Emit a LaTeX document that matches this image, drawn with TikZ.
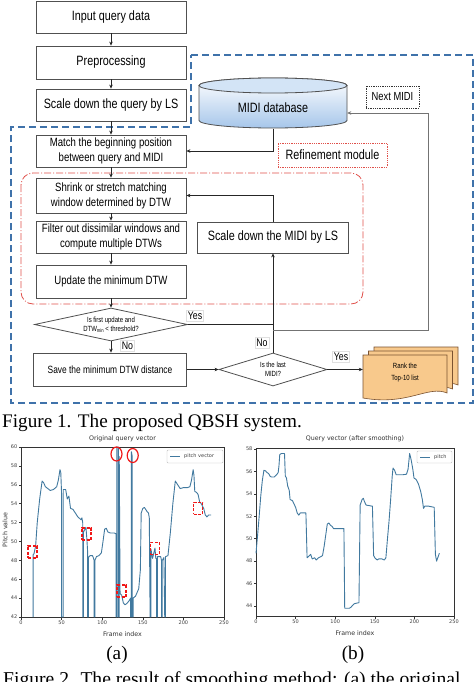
\documentclass[tikz,border=0pt]{standalone}
\usepackage{fontspec}
\setmainfont{Liberation Serif}
\newfontfamily\flowfont[FakeStretch=0.8]{Liberation Sans}
\newfontfamily\plotfont{DejaVu Sans}
\usetikzlibrary{arrows.meta,shapes.geometric}
\definecolor{boxline}{HTML}{505050}
\definecolor{regionblue}{HTML}{3F72AA}
\definecolor{regionred}{HTML}{E0504A}
\definecolor{dbtop}{HTML}{D3E4F6}
\definecolor{dbbottom}{HTML}{A6C6EA}
\definecolor{docfill}{HTML}{F8C98C}
\definecolor{docline}{HTML}{7A5230}
\definecolor{pitchc}{HTML}{41799F}
\definecolor{spotred}{HTML}{F01818}

\tikzset{
  stepbox/.style={draw=boxline,line width=0.8pt,minimum width=150pt,align=center,inner sep=1pt,
    font=\flowfont\fontsize{12}{15}\selectfont},
  bigtext/.style={font=\flowfont\fontsize{13.5}{15}\selectfont},
  decision/.style={diamond,draw=boxline,line width=0.8pt,inner sep=0.5pt,align=center,
    font=\flowfont\fontsize{7.5}{9}\selectfont},
  arr/.style={draw=black!85,line width=0.6pt,-{Stealth[length=4pt,width=3.5pt]}},
  link/.style={draw=black!85,line width=0.6pt},
  answer/.style={draw=black!12,line width=0.4pt,inner sep=1.5pt,font=\flowfont\fontsize{11}{12}\selectfont},
  axisline/.style={draw=black!80,line width=0.5pt},
  ticklab/.style={font=\plotfont\fontsize{5}{6}\selectfont,text=black!75,inner sep=1pt},
  plotlab/.style={font=\plotfont\fontsize{6.3}{7}\selectfont,text=black!80,inner sep=0pt},
  pitchline/.style={draw=pitchc,line width=0.9pt,line join=round},
  redsq/.style={draw=spotred,dash pattern=on 3pt off 1.5pt,line width=1.4pt,minimum width=9pt,minimum height=12pt,inner sep=0pt},
  redring/.style={ellipse,draw=spotred,line width=1.2pt,minimum width=11pt,minimum height=14pt,inner sep=0pt},
}

\begin{document}
\begin{tikzpicture}[x=1pt,y=-1pt]
  \clip (0,0) rectangle (474,682);
  \fill[white] (0,0) rectangle (474,682);

  % regions
  \draw[regionblue,line width=1.2pt,dash pattern=on 7pt off 4pt]
    (191,55) -- (473,55) -- (473,403) -- (11,403) -- (11,127) -- (191,127) -- cycle;
  \draw[regionred,line width=0.8pt,rounded corners=12pt,dash pattern=on 7pt off 2pt on 1pt off 2pt]
    (21,173) rectangle (363,304);

  % main column
  \node[stepbox,bigtext,minimum height=32pt] (input) at (111,17) {Input query data};
  \node[stepbox,bigtext,minimum height=33pt] (preproc) at (111,62.5) {Preprocessing};
  \node[stepbox,bigtext,minimum height=32pt] (scaleq) at (111,105) {Scale down the query by LS};
  \node[stepbox,minimum height=32pt] (match) at (111,151) {Match the beginning position\\between query and MIDI};
  \node[stepbox,minimum height=35pt] (shrink) at (111,195.5) {Shrink or stretch matching\\window determined by DTW};
  \node[stepbox,minimum height=32pt] (filter) at (111,237) {Filter out dissimilar windows and\\compute multiple DTWs};
  \node[stepbox,minimum height=33pt] (update) at (111,281.5) {Update the minimum DTW};
  \node[decision,aspect=4.6,minimum width=153pt,minimum height=33pt] (d1) at (111,324.5)
    {Is first update and\\DTW\textsubscript{min}\,< threshold?};
  \node[stepbox,minimum width=153pt,minimum height=33pt,font=\flowfont\fontsize{10.5}{12}\selectfont] (save) at (110,369.5)
    {Save the minimum DTW distance};

  % database
  \shadedraw[top color=white,bottom color=dbbottom,draw=boxline,line width=0.8pt]
    (199,85.5) -- (199,120.5) arc[start angle=180,end angle=360,x radius=74pt,y radius=7.5pt]
    -- (347,85.5) arc[start angle=0,end angle=180,x radius=74pt,y radius=7.5pt] -- cycle;
  \draw[fill=dbtop,draw=boxline,line width=0.8pt] (273,85.5) ellipse[x radius=74pt,y radius=7.5pt];
  \node[bigtext,minimum width=148pt,minimum height=41pt,inner sep=0pt] (db) at (273,108) {MIDI database};

  \node[bigtext,draw=regionred,densely dotted,line width=0.8pt,minimum width=109pt,minimum height=24pt,inner sep=0pt]
    (refine) at (332.5,155) {Refinement module};
  \node[draw=black!80,densely dotted,line width=0.8pt,minimum width=53pt,minimum height=22pt,inner sep=0pt,
    font=\flowfont\fontsize{11.7}{13}\selectfont] (nextmidi) at (392.5,97) {Next MIDI};

  \node[stepbox,bigtext,minimum width=151pt,minimum height=31pt] (scalemidi) at (273,237.5) {Scale down the MIDI by LS};
  \node[decision,aspect=3.27,minimum width=108pt,minimum height=33pt] (d2) at (273,369.5) {Is the last\\MIDI?};

  % stacked documents
  \foreach \d in {2,1,0}
    \draw[fill=docfill,draw=docline,line width=0.6pt,shift={(5.5*\d,-4*\d)}]
      (363,355) -- (447,355) -- (447,393) .. controls (428,385) and (408,406) .. (363,398) -- cycle;
  \node[align=center,minimum width=84pt,minimum height=36pt,inner sep=0pt,
    font=\flowfont\fontsize{7.5}{12}\selectfont] (rank) at (405,373) {Rank the\\Top-10 list};

  % connectors
  \draw[arr] (input) -- (preproc);
  \draw[arr] (preproc) -- (scaleq);
  \draw[arr] (scaleq) -- (match);
  \draw[arr] (match) -- (shrink);
  \draw[arr] (shrink) -- (filter);
  \draw[arr] (filter) -- (update);
  \draw[arr] (update) -- (d1);
  \draw[arr] (d1.south) -- (d1.south |- save.north);
  \draw[arr] (save.east) -- (save.east -| d2.west);
  \draw[arr] (d2.east) -- (d2.east -| rank.west);
  \draw[link] (d1.east) -- (d1.east -| scalemidi.south);
  \draw[arr] (d2.north) -- (scalemidi.south);
  \draw[arr] (scalemidi.north) |- (shrink.east);
  \draw[arr] (db.south) |- (match.east);
  \coordinate (loopfoot) at (273,330);
  \coordinate (loopturn) at (428,330);
  \coordinate (looptop) at (428,113);
  \draw[arr,draw=black!55] (loopfoot) -- (loopturn) -- (looptop) -- (looptop -| db.east);

  \node[answer] (yesone) at (195,316) {Yes};
  \node[answer] (noone) at (127.5,346) {No};
  \node[answer] (notwo) at (262,343) {No};
  \node[answer] (yestwo) at (341,357) {Yes};

  \node[anchor=base west,inner sep=0pt,font=\fontsize{19.2}{23}\selectfont] (figone) at (2,427.5)
    {Figure 1. The proposed QBSH system.};

  % plot (a)
  \begin{scope}[shift={(21,1013.65)},xscale=0.812,yscale=-9.444]
    \draw[axisline] (0,42) rectangle (250,60);
    \foreach \p in {42,44,...,60}
      \draw[axisline] (0,\p) -- ++(-3,0) node[left,ticklab] (ya\p) {\p};
    \foreach \f in {0,50,...,250}
      \draw[axisline] (\f,42) -- ++(0,-0.3) node[below,ticklab] (xa\f) {\f};
    \draw[pitchline] plot coordinates {(15,42) (15,48.6) (16,48.7) (18,49.5) (20,52) (23,54.5) (26,56.4)
      (28,56.2) (30,55.8) (33,55.6) (36,55.4) (40,55.5) (44,55.8) (46,56.5) (48,57.6) (49,57.3) (50,55)
      (50,42) (52,42) (52,55.5) (55,55.5) (57,54.5) (59,54.8) (61,53.5) (64,53.4) (67,53) (70,52.6)
      (74,52.3) (75,52.5) (76,52) (76,42) (77,42) (77,51) (80,51.5) (81,50.4) (82,49) (82,42) (83,42)
      (83,48.3) (85,48.5) (88,48.5) (89,48.3) (90,48) (90,42) (91,42) (91,48) (93,48.4) (96,48.5)
      (99,48.8) (101,50) (103,51.3) (105,51.4) (107,51) (110,50.9) (115,50.9) (117,50.8) (117,42)
      (118,42) (118,60) (120,60) (120,42) (121,42) (121,59) (122,44.5) (124,44.3) (126,43.5) (128,43.3)
      (130,43.4) (133,43.7) (135,44) (135,42) (136,42) (136,59.5) (137,59) (137,42) (138,42) (138,44)
      (141,44.2) (145,45) (147,47) (148,53) (150,53.5) (152,53.6) (155,53.2) (157,53) (158,52.5)
      (159,42) (160,42) (160,49.2) (162,48.2) (165,49.3) (166,48.2) (167,48.2) (167,42) (168,42)
      (168,48.4) (172,48.4) (173,48) (173,42) (174,42) (174,48) (176,48.3) (177,42) (178,42) (178,48.4)
      (181,48.5) (184,51) (187,54) (190,56.4) (193,56) (196,55.6) (200,55.7) (205,55.7) (208,55.8)
      (210,56.5) (212,57.6) (213,57) (214,55.3) (216,55.2) (218,55) (220,54.2) (222,54) (225,53.5)
      (227,52.8) (229,52.6) (231,52.8) (234,52.8)};
    \node[redsq] (sq1) at (14.4,48.9) {};
    \node[redsq] (sq2) at (80.9,50.8) {};
    \node[redsq] (sq3) at (124,44.75) {};
    \node[redsq] (sq4) at (165,49.27) {};
    \node[redsq] (sq5) at (218.3,53.5) {};
    \node[redring] (ring1) at (117.6,59.26) {};
    \node[redring] (ring2) at (137.6,59.1) {};
  \end{scope}
  \node[plotlab] (titlea) at (122.5,439) {Original query vector};
  \node[plotlab,rotate=90] (ylaba) at (5,530) {Pitch value};
  \node[plotlab] (xlaba) at (122.5,634) {Frame index};
  \draw[draw=black!25,line width=0.4pt,rounded corners=1pt,fill=white] (167,450) rectangle (223,463);
  \draw[pitchline] (170,456.5) -- (180,456.5);
  \node[ticklab,anchor=west,inner sep=0pt] (lega) at (184,456.5) {pitch vector};

  % plot (b)
  \begin{scope}[shift={(256,1099.4)},xscale=0.792,yscale=-11.214]
    \draw[axisline] (0,43.11) rectangle (250,58.09);
    \foreach \p in {44,46,...,58}
      \draw[axisline] (0,\p) -- ++(-3,0) node[left,ticklab] (yb\p) {\p};
    \foreach \f in {0,50,...,250}
      \draw[axisline] (\f,43.11) -- ++(0,-0.25) node[below,ticklab] (xb\f) {\f};
    \draw[pitchline] plot coordinates {(0,48.7) (2,50.3) (4,52) (6,53.8) (8,55.2) (10,56.1) (12,56.05)
      (14,55.9) (16,55.8) (18,55.55) (20,55.5) (23,55.5) (26,55.7) (28,55.9) (29,56.5) (30,57.5) (32,57.6)
      (36,57.6) (37,55.6) (38.5,55.4) (40,54.7) (42,54.3) (43,53.5) (46,53.4) (48,53.1) (50,52.8)
      (52,52.3) (54,52.1) (56,52.3) (63,52.3) (64.5,48.3) (66,48.4) (69,48.6) (71,48.2) (74,48.3)
      (76,48.1) (79,48.3) (82,48.4) (84,48.5) (86,49.3) (88,50.3) (90,51.3) (92,51.4) (94,51.2)
      (96,51.1) (98,50.9) (111,50.9) (112,43.8) (118,43.8) (120,43.9) (124,44.2) (130,44.3) (131.5,53)
      (134,53.5) (135.5,53.6) (137,53.3) (139,53) (147,52.9) (148.5,48.5) (150,48.3) (153,48.1)
      (155,48.2) (159,48.2) (162,48.1) (164,48.3) (166,50) (168,51.6) (170,53.5) (172,55.6) (173,56.3)
      (175,56.1) (177,55.7) (185,55.7) (190,55.75) (192,56.2) (194,57.6) (196,57) (198,56.2)
      (199.5,55.4) (202,55.3) (205,54.9) (208,54.2) (210,53.5) (211.5,52.7) (213,52.9) (218,52.9)
      (225,52.8) (226.5,48.6) (228,48) (230,48.4) (231.5,48.7)};
  \end{scope}
  \node[plotlab] (titleb) at (355,439) {Query vector (after smoothing)};
  \node[plotlab] (xlabb) at (355,633) {Frame index};
  \draw[draw=black!25,line width=0.4pt,rounded corners=1pt,fill=white] (417,451) rectangle (452,463);
  \draw[pitchline] (420,457) -- (430,457);
  \node[ticklab,anchor=west,inner sep=0pt] (legb) at (434,457) {pitch};

  \node[inner sep=0pt,font=\fontsize{19.2}{23}\selectfont] (suba) at (117,655) {(a)};
  \node[inner sep=0pt,font=\fontsize{19.2}{23}\selectfont] (subb) at (353,655) {(b)};
  \node[anchor=base west,inner sep=0pt,font=\fontsize{19.6}{23}\selectfont] (figtwo) at (3,685)
    {Figure 2. The result of smoothing method: (a) the original};
\end{tikzpicture}
\end{document}
